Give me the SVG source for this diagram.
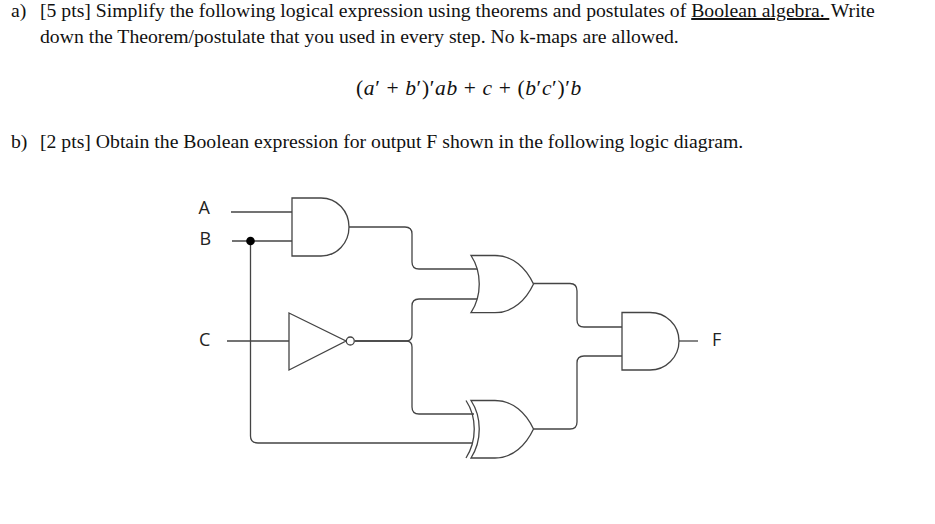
<svg xmlns="http://www.w3.org/2000/svg" width="935" height="524" viewBox="0 0 935 524">
<style>
.t{font-family:"Liberation Serif",serif;font-size:19.72px;fill:#111}
.m{font-family:"Liberation Serif",serif;font-size:21.5px;fill:#111;letter-spacing:.62px}
.i{font-style:italic}
.l{font-family:"Open Sans","Noto Sans",sans-serif;font-size:18px;fill:#222}
.g{fill:#fff;stroke:#444;stroke-width:1.3}
.w{fill:none;stroke:#444;stroke-width:1.3}
</style>
<rect width="935" height="524" fill="#fff"/>
<g id="text">
<text class="t" x="11" y="17">a)</text>
<text class="t" x="40" y="17">[5 pts] Simplify the following logical expression using theorems and postulates of <tspan text-decoration="underline">Boolean algebra. </tspan><tspan dx="1.500">Write</tspan></text>
<text class="t" x="40" y="43">down the Theorem/postulate that you used in every step. No k-maps are allowed.</text>
<text class="m" x="356" y="95" xml:space="preserve">(<tspan class="i">a</tspan>′ + <tspan class="i">b</tspan>′)′<tspan class="i">ab</tspan> + <tspan class="i">c</tspan> + (<tspan class="i">b</tspan>′<tspan class="i">c</tspan>′)′<tspan class="i">b</tspan></text>
<text class="t" x="11" y="148">b)</text>
<text class="t" x="40" y="148">[2 pts] Obtain the Boolean expression for output F shown in the following logic diagram.</text>
</g>
<g id="connectors">
<path class="w" d="M231 212H292"/>
<path class="w" d="M232 241H292"/>
<path class="w" d="M250.500 241V436Q250.500 443 258 443H472"/>
<path class="w" d="M227 341H289"/>
<path class="w" d="M349 227H405Q412 227 412 234V262Q412 269 419 269H478"/>
<path class="w" d="M355 341H406Q412 341 412 335V306Q412 299 419 299H478"/>
<path class="w" d="M355 341H406Q412 341 412 347V407Q412 414 419 414H474"/>
<path class="w" d="M533 283.500H570Q577 283.500 577 291V320Q577 327 584 327H622"/>
<path class="w" d="M533 429H570Q577 429 577 422V363Q577 356 584 356H622"/>
<path class="w" d="M679 341H698"/>
</g>
<g id="junction"><circle cx="250.500" cy="241" r="4.300" fill="#000"/></g>
<g id="gate-and1"><path class="g" d="M292 198H321C337 198 349 211 349 227C349 243 337 256 321 256H292Z"/></g>
<g id="gate-not"><path class="g" d="M289 313L346 341L289 370Z"/><circle class="g" cx="350.300" cy="341" r="4"/></g>
<g id="gate-or"><path class="g" d="M471 255.500H495C513 255.500 526 268 533.500 284C526 300 513 312.700 495 312.700H471C482 296 482 272 471 255.500Z"/></g>
<g id="gate-xor"><path class="g" d="M471 400.500H495C513 400.500 526 413 533.500 429C526 445 513 458 495 458H471C482 441 482 417 471 400.500Z"/><path class="w" d="M466 400.500C477 417 477 441 466 458"/></g>
<g id="gate-and2"><path class="g" d="M622 312.500H650C666 312.500 679 325 679 341C679 357 666 370 650 370H622Z"/></g>
<g id="labels">
<text class="l" x="198.500" y="214">A</text>
<text class="l" x="199.500" y="245">B</text>
<text class="l" x="199" y="346">C</text>
<text class="l" x="712" y="346">F</text>
</g>
</svg>
